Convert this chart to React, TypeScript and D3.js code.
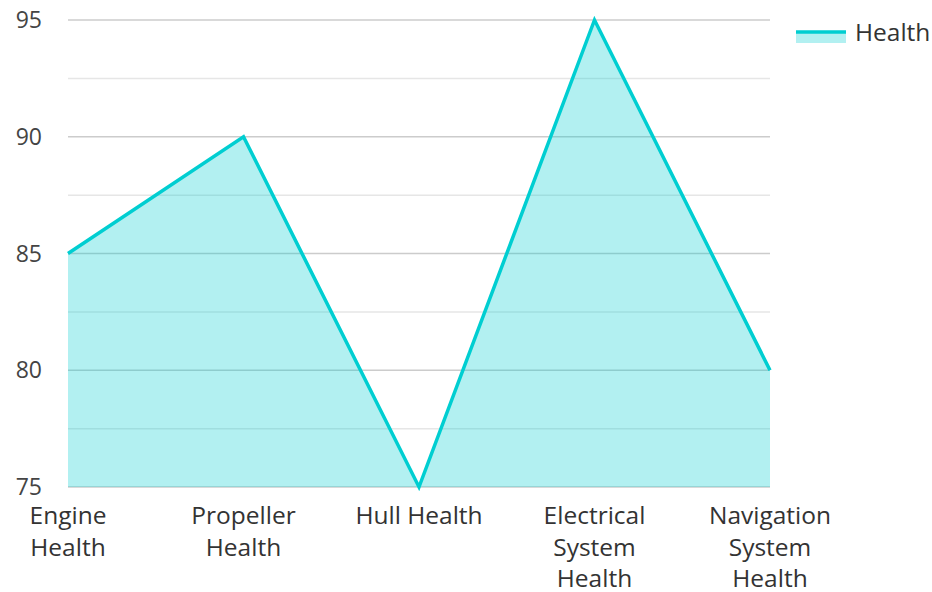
import React from "react";
import * as d3 from "d3";

const categories = [
  ["Engine", "Health"],
  ["Propeller", "Health"],
  ["Hull Health"],
  ["Electrical", "System", "Health"],
  ["Navigation", "System", "Health"],
];
const values = [85, 90, 75, 95, 80];
const majorTicks = [75, 80, 85, 90, 95];
const minorTicks = [77.5, 82.5, 87.5, 92.5];
const seriesName = "Health";

const W = 932;
const H = 592;
const left = 68;
const right = 770;
const top = 20;
const bottom = 487;
const color = "#00CED1";
const font = "'Open Sans', 'Noto Sans', sans-serif";

export default function App() {
  const x = d3.scalePoint<number>().domain(d3.range(values.length)).range([left, right]);
  const y = d3.scaleLinear().domain([75, 95]).range([bottom, top]);
  const pts = values.map((v, i) => [x(i)!, y(v)] as [number, number]);
  const area = d3.area<[number, number]>().x((d) => d[0]).y0(y(75)).y1((d) => d[1])(pts)!;
  const line = d3.line<[number, number]>().x((d) => d[0]).y((d) => d[1])(pts)!;
  return (
    <svg width={W} height={H} style={{ position: "absolute", left: 0, top: 0 }} fontFamily={font}>
      {minorTicks.map((t) => (
        <line key={"m" + t} x1={left} x2={right} y1={y(t)} y2={y(t)} stroke="#e6e6e6" strokeWidth={1.5} />
      ))}
      {majorTicks.map((t) => (
        <line key={"M" + t} x1={left} x2={right} y1={y(t)} y2={y(t)} stroke="#cccccc" strokeWidth={1.5} />
      ))}
      <path d={area} fill="rgba(0,206,209,0.3)" />
      <path d={line} fill="none" stroke={color} strokeWidth={3.5} strokeLinejoin="miter" />
      {majorTicks.map((t) => (
        <text key={"t" + t} x={42} y={y(t)} dy="0.35em" textAnchor="end" fontSize={23} fill="#444">
          {t}
        </text>
      ))}
      {categories.map((lines, i) => (
        <text key={"c" + i} x={x(i)!} textAnchor="middle" fontSize={24.5} fill="#333">
          {lines.map((l, j) => (
            <tspan key={j} x={x(i)!} y={524 + j * 31.5}>
              {l}
            </tspan>
          ))}
        </text>
      ))}
      <g>
        <rect x={796} y={32} width={50} height={11} fill="rgba(0,206,209,0.3)" />
        <line x1={796} x2={846} y1={32} y2={32} stroke={color} strokeWidth={3.5} />
        <text x={855} y={32} dy="0.35em" fontSize={24.5} fill="#333">
          {seriesName}
        </text>
      </g>
    </svg>
  );
}
